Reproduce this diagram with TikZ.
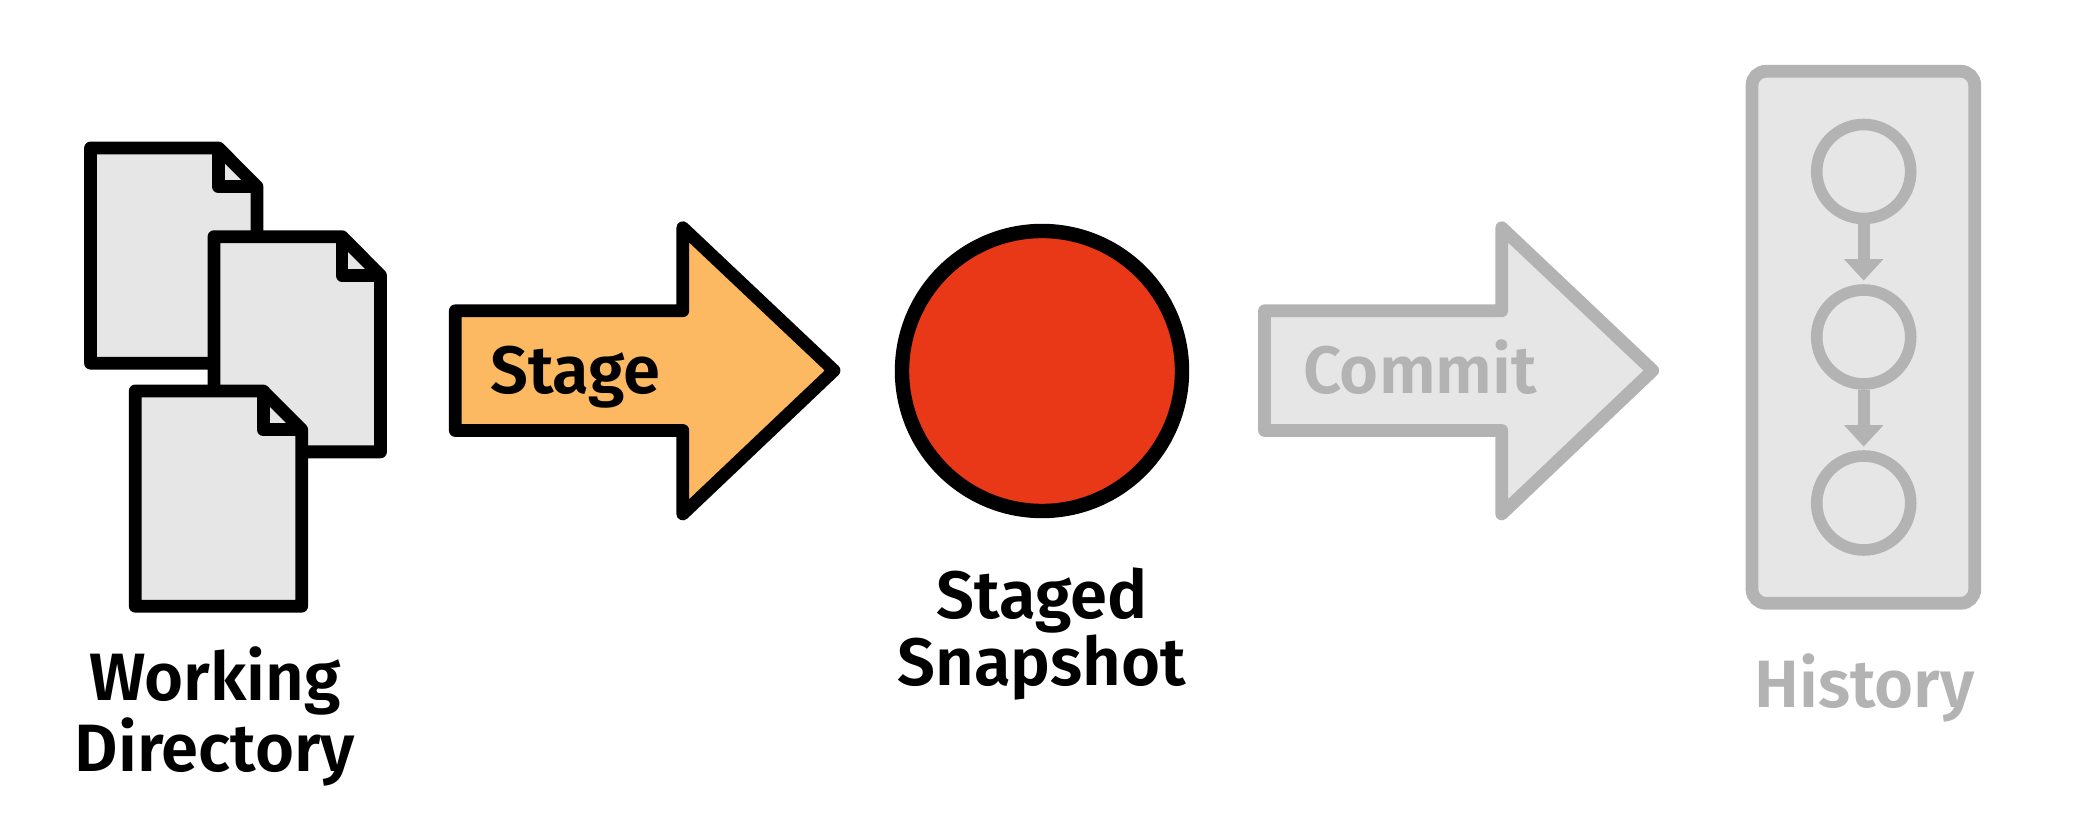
\documentclass[tikz,border=0pt]{standalone}
\usepackage{fontspec}
\setmainfont{Fira Sans}[BoldFont={Fira Sans SemiBold}]
\usetikzlibrary{arrows.meta}
\definecolor{paper}{HTML}{E6E6E6}
\definecolor{mute}{HTML}{B3B3B3}
\definecolor{amber}{HTML}{FDB962}
\definecolor{vermil}{HTML}{E93817}
\tikzset{
  x=0.5pt,y=-0.5pt,
  shapeline/.style={line width=6.4pt,line join=round},
  lbl/.style={font=\fontsize{33.5pt}{33pt}\selectfont\bfseries,inner sep=0pt,outer sep=0pt,anchor=base,align=center},
  commitnode/.style={circle,draw=mute,line width=5.8pt,minimum size=47pt,inner sep=0pt},
  commitlink/.style={draw=mute,line width=6pt,shorten >=1.8pt,-{Triangle[length=10.7pt,width=19pt]}},
}
\newcommand{\docsheet}[2]{%
  \draw[shapeline,fill=paper] (#1,#2) -- ++(128,0) -- ++(38.5,38.7) -- ++(0,176.5) -- ++(-166.5,0) -- cycle;
  \draw[shapeline] (#1+128,#2) -- ++(0,38.7) -- ++(38.5,0);
}
\begin{document}
\begin{tikzpicture}
\useasboundingbox (0,0) rectangle (2083,833);
% documents
\docsheet{90.5}{148}
\docsheet{214}{236.7}
\docsheet{135.2}{391}
\node[lbl] (wd) at (215,771) {Working\\Directory};
% stage arrow
\draw[shapeline,fill=amber] (455.3,310.8) -- (682.8,310.8) -- (682.8,227.7) -- (834,370.5) -- (682.8,514) -- (682.8,430.5) -- (455.3,430.5) -- cycle;
\node[lbl] (stage) at (575.5,394) {Stage};
% staged snapshot
\node[circle,draw=black,fill=vermil,line width=7.2pt,minimum size=140pt,inner sep=0pt] (snap) at (1042,371) {};
\node[lbl] (ss) at (1042,685) {Staged\\Snapshot};
% commit arrow
\draw[shapeline,draw=mute,fill=paper] (1264.5,310.8) -- (1501.7,310.8) -- (1501.7,227.7) -- (1652.7,370.5) -- (1501.7,514) -- (1501.7,430.5) -- (1264.5,430.5) -- cycle;
\node[lbl,text=mute] (commit) at (1420,394) {Commit};
% history
\draw[draw=mute,fill=paper,line width=6.4pt,rounded corners=7pt] (1752,71.3) rectangle (1974.7,603.3);
\node[commitnode] (c1) at (1863.7,171.5) {};
\node[commitnode] (c2) at (1863.7,337) {};
\node[commitnode] (c3) at (1863.7,503) {};
\draw[commitlink] (c1) -- (c2);
\draw[commitlink] (c2) -- (c3);
\node[lbl,text=mute] (hist) at (1864.5,707) {History};
\end{tikzpicture}
\end{document}
